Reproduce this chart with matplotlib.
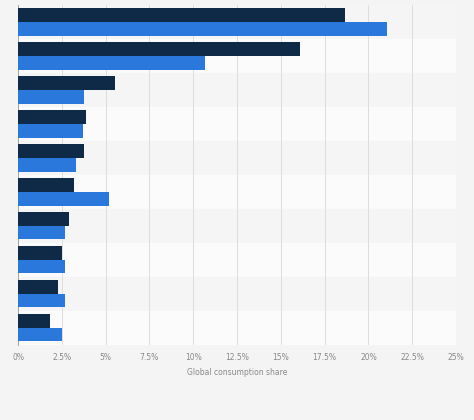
import matplotlib.pyplot as plt
import numpy as np

series_dark = [18.66, 16.1, 5.54, 3.88, 3.77, 3.2, 2.91, 2.51, 2.28, 1.83]
series_blue = [21.06, 10.67, 3.77, 3.71, 3.31, 5.19, 2.68, 2.68, 2.68, 2.51]
xticks = [0, 2.5, 5, 7.5, 10, 12.5, 15, 17.5, 20, 22.5, 25]
xtick_labels = ["0%", "2.5%", "5%", "7.5%", "10%", "12.5%", "15%", "17.5%", "20%", "22.5%", "25%"]

fig = plt.figure(figsize=(4.74, 4.2), dpi=100, facecolor="#f4f4f4")
ax = fig.add_axes([0.038, 0.179, 0.924, 0.809])
ax.set_facecolor("#ffffff")
n = len(series_dark)
y = np.arange(n)
for i in range(n):
    if i % 2 == 0:
        ax.axhspan(i - 0.5, i + 0.5, color="#f5f5f5", zorder=0)
    else:
        ax.axhspan(i - 0.5, i + 0.5, color="#fbfbfb", zorder=0)
h = 0.4
ax.barh(y - h / 2, series_dark, height=h, color="#0f2a47", zorder=3)
ax.barh(y + h / 2, series_blue, height=h, color="#2a78dc", zorder=3)
ax.set_ylim(n - 0.5, -0.5)
ax.set_xlim(0, 25)
ax.set_xticks(xticks)
ax.set_xticklabels(xtick_labels, fontsize=5.5, color="#888888")
ax.set_yticks([])
ax.grid(axis="x", color="#dddddd", linewidth=0.7, zorder=1)
ax.tick_params(axis="x", length=0, pad=6)
for s in ["top", "right", "bottom"]:
    ax.spines[s].set_visible(False)
ax.spines["left"].set_color("#999999")
ax.spines["left"].set_linewidth(0.6)
ax.set_xlabel("Global consumption share", fontsize=5.5, color="#888888", labelpad=4)
fig.savefig("out.png", dpi=100, facecolor=fig.get_facecolor())
